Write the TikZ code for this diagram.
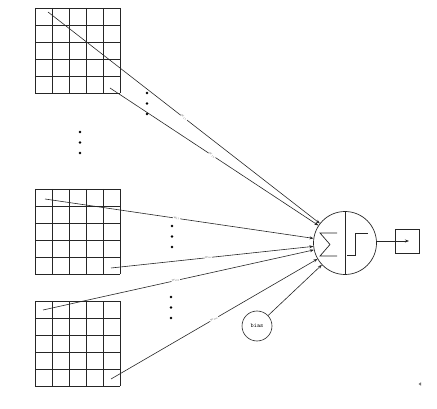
\documentclass[tikz,border=0pt]{standalone}
\usetikzlibrary{arrows.meta}
\begin{document}
\begin{tikzpicture}[x=1pt,y=-1pt,
  gridline/.style={line width=0.9pt,draw=black!85},
  conn/.style={draw=black!85,line width=0.6pt,-{Stealth[length=4pt,width=3pt]}},
  wlab/.style={fill=white,inner sep=0.3pt,text=black!60,font=\fontsize{3.5}{3.5}\selectfont,sloped},
  dotn/.style={circle,fill=black,inner sep=0pt,minimum size=2.6pt},
  neuron/.style={circle,draw=black!85,line width=0.7pt,minimum size=63pt,inner sep=0pt},
  biasn/.style={circle,draw=black!85,line width=0.6pt,minimum size=30pt,inner sep=0pt,font=\ttfamily\fontsize{6}{6}\selectfont},
  outbox/.style={draw=black!85,line width=0.7pt,minimum size=24pt,inner sep=0pt}]
\useasboundingbox (0,0) rectangle (437,409);
% grids
\foreach \y in {8,189,301}{
  \foreach \k in {0,...,5}{
    \draw[gridline] (35+\k*17,\y) -- (35+\k*17,\y+85);
    \draw[gridline] (35,\y+\k*17) -- (120,\y+\k*17);
  }
}
% start coordinates
\coordinate (a1) at (48,12);
\coordinate (a2) at (110,88);
\coordinate (b1) at (45,199);
\coordinate (b2) at (111,268);
\coordinate (c1) at (43,310);
\coordinate (c2) at (111,379);
% neuron
\node[neuron] (n) at (345,243) {};
\draw[black!85,line width=0.7pt] (n.north) -- (n.south);
% sigma
\draw[black!85,line width=0.7pt] (337,233) -- (320,233) -- (330,244.5) -- (320,256) -- (337,256);
% step
\draw[black!85,line width=0.7pt] (347,255) -- (355,255) -- (355,233) -- (368,233);
% output
\node[outbox] (o) at (407,241) {};
\coordinate (oend) at (409,241);
\draw[conn] (n.east |- oend) -- (oend);
% bias
\node[biasn] (bias) at (257,326) {bias};
% connectors
\draw[conn] (a1) -- node[wlab,pos=0.5]{w\textsubscript{11}} (n);
\draw[conn] (a2) -- node[wlab,pos=0.49]{w\textsubscript{1n}} (n);
\draw[conn] (b1) -- node[wlab,pos=0.49]{w\textsubscript{i1}} (n);
\draw[conn] (b2) -- node[wlab,pos=0.48]{w\textsubscript{in}} (n);
\draw[conn] (c1) -- node[wlab,pos=0.49]{w\textsubscript{m1}} (n);
\draw[conn] (c2) -- node[wlab,pos=0.5]{w\textsubscript{mn}} (n);
\draw[conn] (bias) -- (n);
% dots
\foreach \x/\ys in {80/132,147/93,172/226,171/297}{
  \foreach \k in {0,1,2}{
    \node[dotn] (d\x\k) at (\x,\ys+\k*10.5) {};
  }
}
% small mark
\fill[black!55] (418.5,384) -- (421,382.3) -- (421,385.7) -- cycle;
\end{tikzpicture}
\end{document}
